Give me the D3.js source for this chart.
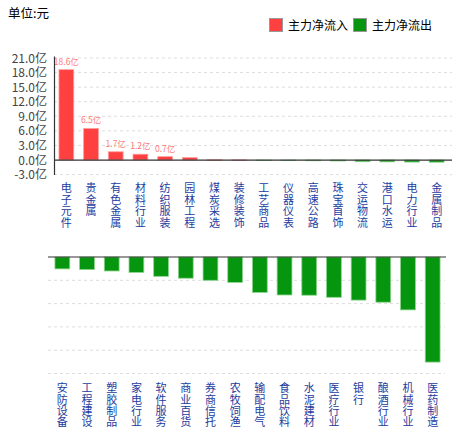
<!DOCTYPE html>
<html>
<head>
<meta charset="utf-8">
<script src="https://cdnjs.cloudflare.com/ajax/libs/d3/7.8.5/d3.min.js"></script>
<style>
  body { margin: 0; background: #fff; }
  svg { display: block; font-family: "Noto Sans CJK SC", "Noto Sans", sans-serif; }
</style>
</head>
<body>
<svg id="chart" width="472" height="442"></svg>
<script>
// 板块资金流向（单位：亿）
const topNames = ["电子元件", "贵金属", "有色金属", "材料行业", "纺织服装", "园林工程", "煤炭采选", "装修装饰",
  "工艺商品", "仪器仪表", "高速公路", "珠宝首饰", "交运物流", "港口水运", "电力行业", "金属制品"];
const topValues = [18.6, 6.5, 1.7, 1.2, 0.7, 0.5, 0.05, 0.03,
  -0.1, -0.12, -0.15, -0.2, -0.35, -0.38, -0.42, -0.45];

const bottomNames = ["安防设备", "工程建设", "塑胶制品", "家电行业", "软件服务", "商业百货", "券商信托", "农牧饲渔",
  "输配电气", "食品饮料", "水泥建材", "医疗行业", "银行", "酿酒行业", "机械行业", "医药制造"];
const bottomValues = [-1.02, -1.08, -1.2, -1.32, -1.66, -1.82, -2.0, -2.18,
  -3.04, -3.26, -3.28, -3.46, -3.7, -3.88, -4.54, -9.02];

const topTicks = [-3, 0, 3, 6, 9, 12, 15, 18, 21];
const bottomTicks = [-2, -4, -6, -8, -10];
const series = ["主力净流入", "主力净流出"];

const RED = "#ff4040", GREEN = "#06950e";
const svg = d3.select("#chart");

// 单位
svg.append("text").attr("x", 8).attr("y", 18)
  .attr("font-size", 12.5).attr("fill", "#000").text("单位:元");

// 图例
const legend = svg.append("g").attr("transform", "translate(269,18)");
series.forEach((s, i) => {
  const g = legend.append("g").attr("transform", `translate(${i * 84},0)`);
  g.append("rect").attr("x", 0.5).attr("y", 0.5).attr("width", 13).attr("height", 13)
    .attr("fill", i === 0 ? RED : GREEN).attr("stroke", "#999");
  g.append("text").attr("x", 19).attr("y", 11.5).attr("font-size", 12).attr("fill", "#000").text(s);
});

// 竖排类目标签，一字一行
function vertLabels(g, names, x, y0) {
  g.selectAll("text.xl").data(names).enter().append("text")
    .attr("class", "xl")
    .attr("font-size", 11)
    .attr("fill", "#1b3c9e")
    .attr("text-anchor", "middle")
    .each(function(d) {
      const t = d3.select(this);
      Array.from(d).forEach((c, j) => {
        t.append("tspan").attr("x", x(d) + x.bandwidth() / 2)
          .attr("y", y0 + 9.8 + j * 11.4).text(c);
      });
    });
}

// 上半部分
const x1 = d3.scaleBand().domain(topNames).range([54, 449]).paddingInner(0.4).paddingOuter(0.2);
const y1 = d3.scaleLinear().domain([-3, 21]).range([174.6, 58]);
const topG = svg.append("g");
const topData = topNames.map((n, i) => ({ name: n, v: topValues[i] }));

topG.selectAll("line.grid").data(topTicks.filter(d => d !== 0)).enter().append("line")
  .attr("x1", 54).attr("x2", 452).attr("y1", d => y1(d)).attr("y2", d => y1(d))
  .attr("stroke", "#ddd").attr("stroke-dasharray", "3,3");

topG.selectAll("text.yl").data(topTicks).enter().append("text")
  .attr("x", 47).attr("y", d => y1(d) + 4.5)
  .attr("text-anchor", "end").attr("font-size", 12).attr("fill", "#444")
  .text(d => d.toFixed(1) + "亿");

topG.selectAll("rect.bar").data(topData).enter().append("rect")
  .attr("x", d => x1(d.name))
  .attr("width", x1.bandwidth())
  .attr("y", d => y1(Math.max(0, d.v)))
  .attr("height", d => Math.max(0.5, Math.abs(y1(d.v) - y1(0))))
  .attr("fill", d => d.v >= 0 ? RED : GREEN)
  .attr("stroke", d => d.v >= 0 ? "#ffa0a0" : "#8ad48a")
  .attr("stroke-width", 0.8);

topG.selectAll("text.vl").data(topData.filter(d => d.v >= 0.6)).enter().append("text")
  .attr("x", d => x1(d.name) + x1.bandwidth() / 2)
  .attr("y", d => y1(d.v) - 5)
  .attr("text-anchor", "middle").attr("font-size", 8.5).attr("fill", "#ff7a7a")
  .text(d => d.v.toFixed(1) + "亿");

topG.append("line").attr("x1", 54).attr("x2", 452).attr("y1", y1(0)).attr("y2", y1(0))
  .attr("stroke", "#333").attr("stroke-width", 1.2);
topG.append("line").attr("x1", 54.5).attr("x2", 54.5).attr("y1", 56.5).attr("y2", 175)
  .attr("stroke", "#333").attr("stroke-width", 1.2);

vertLabels(topG, topNames, x1, 182.5);

// 下半部分
const x2 = d3.scaleBand().domain(bottomNames).range([50, 445]).paddingInner(0.4).paddingOuter(0.2);
const y2 = d3.scaleLinear().domain([-10, 0]).range([373.5, 257]);
const botG = svg.append("g");

botG.selectAll("line.grid").data(bottomTicks).enter().append("line")
  .attr("x1", 48).attr("x2", 445).attr("y1", d => y2(d)).attr("y2", d => y2(d))
  .attr("stroke", "#ddd").attr("stroke-dasharray", "3,3");

botG.selectAll("rect.bar").data(bottomValues).enter().append("rect")
  .attr("x", (d, i) => x2(bottomNames[i]))
  .attr("width", x2.bandwidth())
  .attr("y", y2(0))
  .attr("height", d => y2(d) - y2(0))
  .attr("fill", GREEN)
  .attr("stroke", "#8ad48a")
  .attr("stroke-width", 0.8);

botG.append("line").attr("x1", 48).attr("x2", 446).attr("y1", y2(0)).attr("y2", y2(0))
  .attr("stroke", "#333").attr("stroke-width", 1.2);

vertLabels(botG, bottomNames, x2, 382.3);
</script>
</body>
</html>
